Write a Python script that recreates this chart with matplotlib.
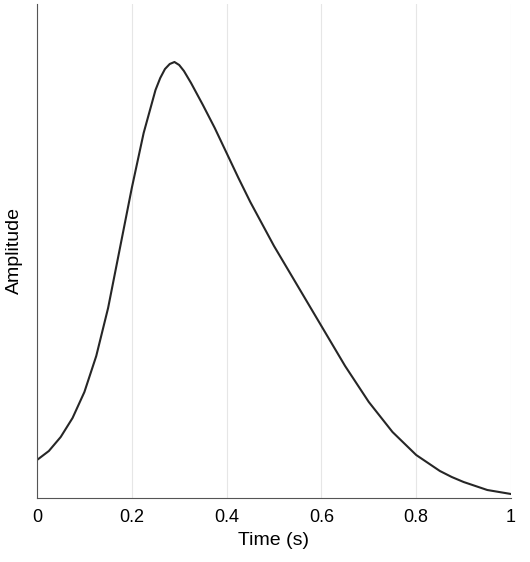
import matplotlib
matplotlib.use('Agg')
import matplotlib.pyplot as plt

plt.rcParams['font.family'] = ['Liberation Sans', 'DejaVu Sans']

# curve (arbitrary amplitude units)
time = [0.0, 0.025, 0.05, 0.075, 0.1, 0.125, 0.15, 0.175, 0.2, 0.225, 0.25, 0.26, 0.27, 0.28,
        0.29, 0.3, 0.31, 0.325, 0.35, 0.375, 0.4, 0.425, 0.45, 0.475, 0.5, 0.55, 0.6, 0.65,
        0.7, 0.75, 0.8, 0.825, 0.85, 0.875, 0.9, 0.95, 1.0]
amplitude = [38, 47, 61, 80, 106, 142, 190, 250, 310, 365, 408, 420, 429, 434,
             436, 433, 427, 415, 393, 370, 345, 320, 296, 274, 252, 212, 172, 132,
             96, 66, 43, 35, 27, 21, 16, 8, 4]

fig = plt.figure(figsize=(5.30, 5.62), dpi=100)
ax = fig.add_axes([37 / 530, (562 - 498) / 562, 474 / 530, 494 / 562])
ax.plot(time, amplitude, color='#262626', linewidth=1.5, solid_joinstyle='round')
ax.set_xlim(0, 1)
ax.set_ylim(0, 494)
ax.set_xticks([0, 0.2, 0.4, 0.6, 0.8, 1])
ax.set_xticklabels(['0', '0.2', '0.4', '0.6', '0.8', '1'], fontsize=13)
ax.set_yticks([])
ax.grid(axis='x', color='#e6e6e6', linewidth=0.8)
for s in ['top', 'right']:
    ax.spines[s].set_visible(False)
for s in ['left', 'bottom']:
    ax.spines[s].set_color('#555555')
ax.tick_params(axis='x', length=0, pad=8)
ax.set_xlabel('Time (s)', fontsize=14)
ax.set_ylabel('Amplitude', fontsize=14, labelpad=10)
fig.savefig('out.png', dpi=100)
